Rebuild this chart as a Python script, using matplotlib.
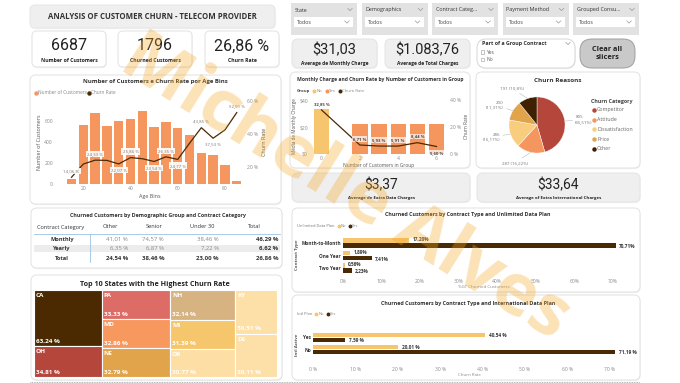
import matplotlib
matplotlib.use('Agg')
import matplotlib.pyplot as plt
from matplotlib.patches import FancyBboxPatch, Rectangle
import numpy as np

plt.rcParams['font.family'] = ['Open Sans', 'DejaVu Sans']

# ---------------- data ----------------
title_text = 'ANALYSIS OF CUSTOMER CHURN - TELECOM PROVIDER'
kpi_values = ['6687', '1796', '26,86 %']
kpi_labels = ['Number of Customers', 'Churned Customers', 'Churn Rate']
slicer_names = ['State', 'Demographics', 'Contract Categ...', 'Payment Method', 'Grouped Consu...']
slicer_value = 'Todos'
charge_values = ['$31,03', '$1.083,76']
charge_labels = ['Average de Monthly Charge', 'Average de Total Charges']
extra_values = ['$3,37', '$33,64']
extra_labels = ['Average de Extra Data Charges', 'Average of Extra International Charges']
group_contract_options = ['Yes', 'No']

age_bins = [15, 20, 25, 30, 35, 40, 45, 50, 55, 60, 65, 70, 75, 80, 85]
age_customers = [47, 556, 669, 547, 597, 616, 690, 544, 590, 534, 469, 297, 275, 178, 25]
age_churn = [14.06, 22.0, 24.33, 24.2, 22.07, 25.86, 25.2, 23.54, 26.35, 24.77, 34.5, 43.85, 37.53, 42.5, 52.91]
age_label_idx = [0, 2, 4, 5, 7, 8, 9, 11, 12, 14]
age_label_above = [True, True, False, True, False, True, False, True, False, True]

group_sizes = [0, 2, 3, 4, 5, 6]
group_plan = ['No', 'Yes', 'Yes', 'Yes', 'Yes', 'Yes']
group_charge = [33.3, 22.4, 22.2, 22.3, 22.5, 22.1]
group_churn = [32.85, 6.71, 5.93, 5.91, 8.44, 5.60]
group_label_above = [True, True, True, True, True, False]

reason_names = ['Competitor', 'Attitude', 'Dissatisfaction', 'Price', 'Other']
reason_counts = [805, 287, 286, 200, 191]

table_cols = ['Other', 'Senior', 'Under 30', 'Total']
table_rows = ['Monthly', 'Yearly', 'Total']
table_vals = [[41.01, 74.57, 38.46, 46.29],
              [6.35, 6.87, 7.22, 6.62],
              [24.54, 38.46, 23.00, 26.86]]

states = ['CA', 'OH', 'PA', 'MD', 'NE', 'NH', 'MI', 'OR', 'KY', 'DE']
state_churn = [63.24, 34.81, 33.33, 32.86, 32.79, 32.14, 31.39, 30.77, 30.51, 30.11]
treemap_columns = [2, 3, 3, 2]

contract_types = ['Month-to-Month', 'One Year', 'Two Year']
unl_no = [17.20, 1.89, 0.56]
unl_yes = [70.71, 7.41, 2.23]

intl_cats = ['Yes', 'No']
intl_no = [40.54, 20.01]
intl_yes = [7.59, 71.19]

# ---------------- style ----------------
ORANGE = '#F5965E'
DARK = '#4A2A05'
LIGHT = '#F6C56E'
LINE = '#4A2A05'
reason_colors = ['#B5463C', '#F5965E', '#F8CE7E', '#E2A44A', '#3F2000']
state_colors = ['#4B2A02', '#B5463C', '#DE6C66', '#F7985F', '#E2A44A',
                '#D8B382', '#F6C66D', '#FDDFA6', '#FDE0A8', '#FDE0A8']
TICK = '#8a8a8a'
NUMFONT = ['Roboto', 'DejaVu Sans']

W, H = 680, 383
fig = plt.figure(figsize=(W / 100, H / 100), dpi=100, facecolor='white')
renderer = fig.canvas.get_renderer()

bg = fig.add_axes([0, 0, 1, 1])
bg.set_xlim(0, W)
bg.set_ylim(H, 0)
bg.axis('off')


def ax_px(x0, y0, x1, y1):
    a = fig.add_axes([x0 / W, 1 - y1 / H, (x1 - x0) / W, (y1 - y0) / H])
    a.set_facecolor('none')
    return a


def panel(x, y, w, h, fc='white', ec='#e2e2e2', r=6, lw=0.7, shadow=True):
    if shadow:
        bg.add_patch(FancyBboxPatch((x + 0.8, y + 1.2), w, h,
                                    boxstyle=f'round,pad=0,rounding_size={r}',
                                    fc=(0, 0, 0, 0.05), ec='none'))
    bg.add_patch(FancyBboxPatch((x, y), w, h, boxstyle=f'round,pad=0,rounding_size={r}',
                                fc=fc, ec=ec, lw=lw))


def chevron(x, y, s=2.2, c='#999999'):
    bg.plot([x - s, x, x + s], [y - s * 0.5, y + s * 0.5, y - s * 0.5], color=c, lw=0.5)


def pct(v, sep=' '):
    return f'{v:.2f}'.replace('.', ',') + sep + '%'


def style_ax(a):
    for s in a.spines.values():
        s.set_visible(False)
    a.tick_params(length=0, labelsize=3.6, colors=TICK, pad=1.5)


def text_width(t):
    return t.get_window_extent(renderer=renderer).width * 100 / fig.dpi


def legend_row(x, y, title, items, fs=3.2, ms=1.9, gap=3.0, title_color='#777777',
               title_weight='normal'):
    t = bg.text(x, y, title, ha='left', va='center', fontsize=fs, color=title_color,
                fontweight=title_weight)
    cx = x + text_width(t) + gap + 1
    for name, c in items:
        bg.plot([cx], [y], 'o', ms=ms, color=c)
        tt = bg.text(cx + 2.0, y, name, ha='left', va='center', fontsize=fs, color='#888888')
        cx += 2.0 + text_width(tt) + gap + 1.5


# ---------------- header ----------------
panel(30, 5, 245, 23, fc='#efefef', ec='#e6e6e6', r=5)
bg.text(152.5, 16.5, title_text, ha='center', va='center', fontsize=5.6,
        fontweight='bold', color='#333333')

kpi_x = [32, 118, 205]
for x, v, l in zip(kpi_x, kpi_values, kpi_labels):
    panel(x, 31, 74, 36, r=5)
    bg.text(x + 37, 46, v, ha='center', va='center', fontsize=11.5, color='#222222',
            family=NUMFONT)
    bg.text(x + 37, 60.5, l, ha='center', va='center', fontsize=3.7, color='#222222',
            fontweight='bold')

# slicers
for i, name in enumerate(slicer_names):
    x0 = 291 + i * 70.5
    bg.add_patch(Rectangle((x0, 3), 66, 32, fc='#e2e2e2', ec='none'))
    bg.text(x0 + 4, 10, name, ha='left', va='center', fontsize=3.9, color='#333333')
    chevron(x0 + 59, 9.5)
    bg.add_patch(Rectangle((x0 + 3, 17), 59, 10, fc='white', ec='none'))
    bg.text(x0 + 6, 22, slicer_value, ha='left', va='center', fontsize=3.8, color='#444444')
    chevron(x0 + 56, 22)

for i, (v, l) in enumerate(zip(charge_values, charge_labels)):
    x = 292 + i * 93
    panel(x, 39, 85, 29, fc='#efefef', ec='#e4e4e4', r=6)
    bg.text(x + 42.5, 50.5, v, ha='center', va='center', fontsize=10.5, color='#222222',
            family=NUMFONT)
    bg.text(x + 42.5, 63.5, l, ha='center', va='center', fontsize=3.5, color='#222222',
            fontweight='bold')

panel(477, 39, 98, 29, r=9, ec='#d6d6d6')
bg.text(482, 44, 'Part of a Group Contract', ha='left', va='center', fontsize=3.9,
        fontweight='bold', color='#333333')
chevron(568, 43.5)
for j, opt in enumerate(group_contract_options):
    yy = 52 + j * 7.5
    bg.add_patch(Rectangle((481, yy - 1.6), 3.2, 3.2, fc='white', ec='#999999', lw=0.4))
    bg.text(486.5, yy, opt, ha='left', va='center', fontsize=3.5, color='#555555')

bg.add_patch(FancyBboxPatch((580, 39), 55, 29, boxstyle='round,pad=0,rounding_size=12',
                            fc='#c9c9c9', ec='#9e9e9e', lw=0.7))
bg.text(607.5, 53.5, 'Clear all\nslicers', ha='center', va='center', fontsize=5.3,
        fontweight='bold', color='#222222', linespacing=1.2)

# ---------------- age bins chart ----------------
panel(30, 75, 251, 129)
bg.text(155, 81.5, 'Number of Customers e Churn Rate por Age Bins', ha='center', va='center',
        fontsize=4.3, fontweight='bold', color='#333333')
legend_row(34, 93, '', [('Number of Customers', ORANGE), ('Churn Rate', LINE)], fs=3.4,
           ms=2.2, gap=1.0)

ax = ax_px(55, 100, 245, 184)
ax.bar(age_bins, age_customers, width=4.0, color=ORANGE, zorder=2)
ax.set_xlim(8, 88.5)
ax.set_ylim(0, 796)
ax.set_yticks([0, 200, 400, 600])
ax.set_xticks([20, 40, 60, 80])
style_ax(ax)
ax.set_xlabel('Age Bins', fontsize=3.9, color='#555555', labelpad=2)
ax.set_ylabel('Number of Customers', fontsize=3.9, color='#555555', labelpad=2)
ax2 = ax.twinx()
ax2.plot(age_bins, age_churn, color=LINE, lw=0.9, zorder=3)
ax2.set_ylim(10, 60.5)
ax2.set_yticks([20, 40, 60])
ax2.set_yticklabels(['20 %', '40 %', '60 %'])
style_ax(ax2)
ax2.set_ylabel('Churn Rate', fontsize=3.9, color='#555555', labelpad=3)
for k, idx in enumerate(age_label_idx):
    up = age_label_above[k]
    ax2.annotate(pct(age_churn[idx]), (age_bins[idx], age_churn[idx]),
                 xytext=(0, 3 if up else -3), textcoords='offset points', ha='center',
                 va='bottom' if up else 'top', fontsize=3.2, color='#777777', zorder=4,
                 bbox=dict(boxstyle='square,pad=0.25', fc='white', ec='none', alpha=0.9))

# ---------------- group chart ----------------
panel(290, 72, 180, 96)
bg.text(380, 80, 'Monthly Charge and Churn Rate by Number of Customers in Group', ha='center',
        va='center', fontsize=3.6, fontweight='bold', color='#333333')
legend_row(297, 91, 'Group', [('No', LIGHT), ('Yes', ORANGE), ('Churn Rate', LINE)],
           fs=3.1, title_color='#444444', title_weight='bold')

axg = ax_px(310, 99, 448, 154)
gcolors = [LIGHT if p == 'No' else ORANGE for p in group_plan]
axg.bar(group_sizes, group_charge, width=0.8, color=gcolors, zorder=2)
axg.set_xlim(-0.6, 6.6)
axg.set_ylim(0, 41)
axg.set_yticks([0, 20, 40])
axg.set_yticklabels(['$0', '$20', '$40'])
axg.set_xticks([0, 2, 4, 6])
style_ax(axg)
axg.set_xlabel('Number of Customers in Group', fontsize=3.5, color='#555555', labelpad=1.5)
axg.set_ylabel('Média de Monthly Charge', fontsize=3.3, color='#555555', labelpad=2)
axg2 = axg.twinx()
axg2.plot(group_sizes, group_churn, color=LINE, lw=0.9, zorder=3)
axg2.set_ylim(0, 41)
axg2.set_yticks([0, 20, 40])
axg2.set_yticklabels(['0 %', '20 %', '40 %'])
style_ax(axg2)
axg2.set_ylabel('Churn Rate', fontsize=3.5, color='#555555', labelpad=2)
for k, (xv, yv) in enumerate(zip(group_sizes, group_churn)):
    up = group_label_above[k]
    axg2.annotate(pct(yv), (xv, yv), xytext=(0, 3 if up else -3), textcoords='offset points',
                  ha='center', va='bottom' if up else 'top', fontsize=3.1, color='#444444',
                  fontweight='bold', zorder=4,
                  bbox=dict(boxstyle='square,pad=0.2', fc='white', ec='none', alpha=0.7))

# ---------------- churn reasons pie ----------------
panel(476, 72, 164, 96)
bg.text(558, 81, 'Churn Reasons', ha='center', va='center', fontsize=4.6,
        fontweight='bold', color='#333333')
axp = ax_px(505, 93, 569, 157)
axp.set_aspect('equal')
wedges, _ = axp.pie(reason_counts, colors=reason_colors, startangle=90, counterclock=False,
                    radius=1.0, wedgeprops=dict(ec='white', lw=0.3))
axp.set_xlim(-1.14, 1.14)
axp.set_ylim(-1.14, 1.14)
axp.axis('off')
total_r = sum(reason_counts)
for wdg, cnt in zip(wedges, reason_counts):
    th = np.deg2rad((wdg.theta1 + wdg.theta2) / 2)
    cx, cy = np.cos(th), np.sin(th)
    p = f'{100 * cnt / total_r:.2f}'.rstrip('0').rstrip('.').replace('.', ',')
    lab = f'{cnt} ({p}%)' if abs(cy) > 0.9 else f'{cnt}\n({p}%)'
    axp.annotate(lab, (cx * 1.0, cy * 1.0), xytext=(cx * 1.38, cy * 1.38),
                 ha='left' if cx > 0 else 'right', va='center', fontsize=3.2,
                 color='#777777', annotation_clip=False, linespacing=1.1,
                 arrowprops=dict(arrowstyle='-', color='#bbbbbb', lw=0.4, shrinkA=0, shrinkB=0))
bg.text(591, 102, 'Churn Category', ha='left', va='center', fontsize=3.9,
        fontweight='bold', color='#444444')
for k, (nm, c) in enumerate(zip(reason_names, reason_colors)):
    yy = 110 + k * 9.7
    bg.plot([593.5], [yy], 'o', ms=2.2, color=c)
    bg.text(597, yy, nm, ha='left', va='center', fontsize=3.8, color='#666666')

# ---------------- extra charges KPIs ----------------
for x, w, v, l in zip([292, 477], [178, 163], extra_values, extra_labels):
    panel(x, 173, w, 29, fc='#efefef', ec='#e4e4e4', r=6)
    bg.text(x + w / 2, 185, v, ha='center', va='center', fontsize=10, color='#222222',
            family=NUMFONT)
    bg.text(x + w / 2, 198, l, ha='center', va='center', fontsize=3.2, color='#222222',
            fontweight='bold')

# ---------------- table ----------------
panel(31, 208, 251, 60)
bg.text(158, 215, 'Churned Customers by Demographic Group and Contract Category', ha='center',
        va='center', fontsize=3.9, fontweight='bold', color='#333333')
bg.text(37, 227, 'Contract Category', ha='left', va='center', fontsize=4.1, color='#333333')
head_x = [103, 146, 190, 247]
val_right = [128, 164, 219, 278]
for hx, hname in zip(head_x, table_cols):
    bg.text(hx, 227, hname, ha='left', va='center', fontsize=4.1, color='#333333')
bg.plot([34, 280], [233.5, 233.5], color='#9cc3e0', lw=0.6)
row_y = [239, 248.5, 258]
bg.add_patch(Rectangle((34, 244.8), 246, 7.4, fc='#ececec', ec='none'))
bg.plot([90, 90], [234, 262], color='#9cc3e0', lw=0.6)
for r, (ry, rname) in enumerate(zip(row_y, table_rows)):
    bg.text(62, ry, rname, ha='center', va='center', fontsize=4.1, color='#333333',
            fontweight='bold')
    for c, xr in enumerate(val_right):
        bold = (r == len(table_rows) - 1) or (c == len(table_cols) - 1)
        bg.text(xr, ry, pct(table_vals[r][c]), ha='right', va='center', fontsize=4.3,
                color='#333333' if bold else '#8a8a8a', fontweight='bold' if bold else 'normal')

# ---------------- treemap ----------------
panel(31, 275, 251, 105)
bg.text(155, 284, 'Top 10 States with the Highest Churn Rate', ha='center', va='center',
        fontsize=5.1, fontweight='bold', color='#222222')
axt = ax_px(34, 290, 277, 377)
axt.set_xlim(0, 1)
axt.set_ylim(1, 0)
axt.axis('off')
total_s = sum(state_churn)
i0 = 0
x0 = 0.0
for ncol in treemap_columns:
    vals = state_churn[i0:i0 + ncol]
    wcol = sum(vals) / total_s
    y0 = 0.0
    for k, v in enumerate(vals):
        hcell = v / sum(vals)
        idx = i0 + k
        axt.add_patch(Rectangle((x0, y0), wcol, hcell, fc=state_colors[idx], ec='white', lw=0.8))
        axt.text(x0 + 0.008, y0 + 0.035, states[idx], ha='left', va='top', fontsize=4.6,
                 fontweight='bold', color='white')
        axt.text(x0 + 0.008, y0 + hcell - 0.03, pct(v), ha='left', va='bottom', fontsize=4.6,
                 fontweight='bold', color='white')
        y0 += hcell
    x0 += wcol
    i0 += ncol

# ---------------- unlimited data plan ----------------
panel(292, 208, 348, 84)
bg.text(468, 214.5, 'Churned Customers by Contract Type and Unlimited Data Plan', ha='center',
        va='center', fontsize=3.9, fontweight='bold', color='#333333')
legend_row(297, 226, 'Unlimited Data Plan', [('No', LIGHT), ('Yes', DARK)], fs=2.9, ms=1.8)

axu = ax_px(343, 233, 625, 277)
yu = np.arange(len(contract_types))
hb = 0.36
axu.barh(yu - 0.2, unl_no, height=hb, color=LIGHT)
axu.barh(yu + 0.2, unl_yes, height=hb, color=DARK)
for yy, v in zip(yu, unl_no):
    axu.text(v + 0.8, yy - 0.28, pct(v, ''), va='center', ha='left', fontsize=3.4,
             fontweight='bold', color='#333333')
for yy, v in zip(yu, unl_yes):
    axu.text(v + 0.8, yy + 0.28, pct(v, ''), va='center', ha='left', fontsize=3.4,
             fontweight='bold', color='#333333')
axu.set_ylim(2.7, -0.8)
axu.set_xlim(0, 73.1)
axu.set_xticks(range(0, 80, 10))
axu.set_xticklabels([f'{t}%' for t in range(0, 80, 10)])
axu.set_yticks(yu)
axu.set_yticklabels(contract_types, fontweight='bold')
style_ax(axu)
axu.tick_params(axis='y', colors='#333333', labelsize=3.4)
axu.set_xlabel('%GT Churned Customers', fontsize=3.2, color='#888888', labelpad=1)
axu.set_ylabel('Contract Type', fontsize=3.2, color='#555555', labelpad=2, fontweight='bold')

# ---------------- international plan ----------------
panel(292, 295, 348, 85)
bg.text(468, 303, 'Churned Customers by Contract Type and International Data Plan', ha='center',
        va='center', fontsize=3.9, fontweight='bold', color='#333333')
legend_row(297, 314, 'Intl Plan', [('No', LIGHT), ('Yes', DARK)], fs=2.9, ms=1.8)

axi = ax_px(313, 325, 625, 365)
yi = np.arange(len(intl_cats))
axi.barh(yi - 0.21, intl_no, height=0.38, color=LIGHT)
axi.barh(yi + 0.21, intl_yes, height=0.38, color=DARK)
for yy, v in zip(yi, intl_no):
    axi.text(v + 0.9, yy - 0.21, pct(v), va='center', ha='left', fontsize=3.4,
             fontweight='bold', color='#333333')
for yy, v in zip(yi, intl_yes):
    axi.text(v + 0.9, yy + 0.21, pct(v), va='center', ha='left', fontsize=3.4,
             fontweight='bold', color='#333333')
axi.set_ylim(2.29, -1.04)
axi.set_xlim(0, 73.6)
axi.set_xticks(range(0, 80, 10))
axi.set_xticklabels([f'{t} %' for t in range(0, 80, 10)])
axi.set_yticks(yi)
axi.set_yticklabels(intl_cats, fontweight='bold')
style_ax(axi)
axi.tick_params(axis='y', colors='#333333', labelsize=3.4)
axi.set_xlabel('Churn Rate', fontsize=3.2, color='#888888', labelpad=1)
axi.set_ylabel('Intl Active', fontsize=3.2, color='#555555', labelpad=3, fontweight='bold')

bg.plot([30, 640], [381.5, 381.5], ls=(0, (1, 1)), color='#9a9a9a', lw=0.6)

# ---------------- watermark ----------------
wm = fig.add_axes([0, 0, 1, 1], zorder=50)
wm.set_xlim(0, W)
wm.set_ylim(H, 0)
wm.axis('off')
wm.text(345, 188, 'Michelle Alves', ha='center', va='center', rotation=-32, fontsize=52,
        fontweight='bold', color='#F5A623', alpha=0.33, family=['Open Sans', 'DejaVu Sans'])

fig.savefig('out.png', dpi=100, facecolor='white')
